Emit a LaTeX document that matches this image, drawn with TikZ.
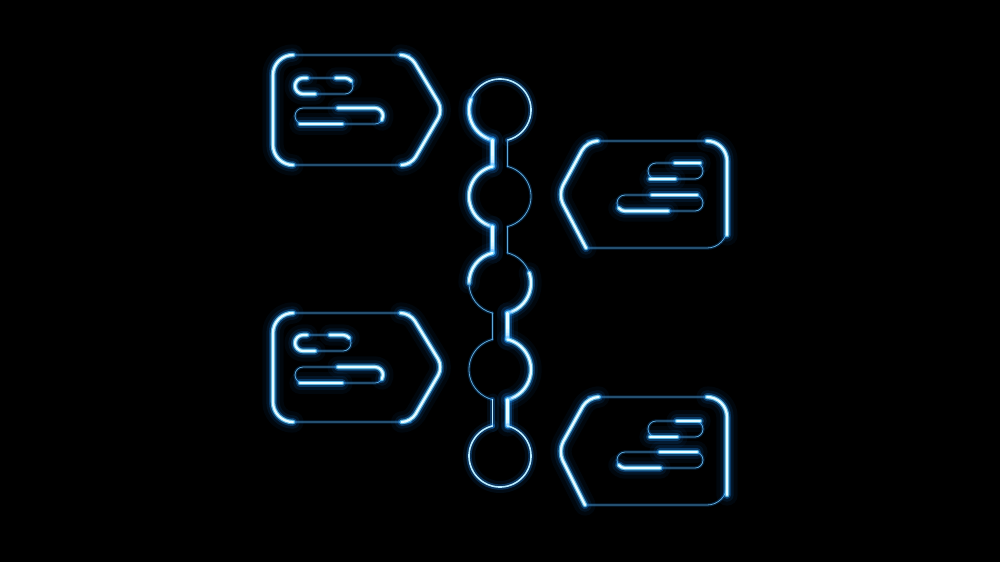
\documentclass[tikz,border=0pt]{standalone}
\definecolor{neoncore}{HTML}{E8FBFF}
\definecolor{neonmid}{HTML}{6FD6FF}
\definecolor{neonglow}{HTML}{1A8FFF}
\definecolor{dimcol}{HTML}{5FA9D6}
\newcommand{\neonpill}[4]{\draw[#4] ({#1+8},{#3-8}) -- ({#2-8},{#3-8}) arc[start angle=-90,end angle=90,radius=8] -- ({#1+8},{#3+8}) arc[start angle=90,end angle=270,radius=8] -- cycle;}
\newcommand{\chainarc}[4]{\draw[#4] ([shift={(500,#1)}]#2:31) arc[start angle=#2,end angle=#3,radius=31];}
\begin{document}
\begin{tikzpicture}[x=0.75pt,y=-0.75pt, line join=round, line cap=round,
  bright/.style={draw=neoncore, line width=1.7pt,
    preaction={draw=neonglow, line width=16pt, draw opacity=0.05},
    preaction={draw=neonglow, line width=10pt, draw opacity=0.1},
    preaction={draw=neonglow, line width=6pt, draw opacity=0.3},
    preaction={draw=neonmid, line width=3.4pt, draw opacity=0.75}},
  midglow/.style={draw=neoncore!60!neonmid, line width=1.2pt,
    preaction={draw=neonglow, line width=9pt, draw opacity=0.08},
    preaction={draw=neonglow, line width=4pt, draw opacity=0.3}},
  dim/.style={draw=dimcol, line width=0.6pt,
    preaction={draw=neonglow, line width=2.5pt, draw opacity=0.22}}]
\fill[black] (0,0) rectangle (1000,562);
\useasboundingbox (0,0) rectangle (1000,562);

% ---------- box 1 (left, top) ----------
\begin{scope}[shift={(273,55)}]
  \draw[dim, rounded corners=15] (137,0) -- (0,0) -- (0,110) -- (138,110);
  \draw[bright, rounded corners=15] (20,0) -- (0,0) -- (0,110) -- (20,110);
  \draw[bright, rounded corners=7] (128,0) -- (137,0) -- (170,55) -- (138,110) -- (129,110);
  \neonpill{22}{80}{31}{dim}
  \neonpill{22}{110}{61}{dim}
  \draw[bright] (42,39) -- (30,39) arc[start angle=90,end angle=270,radius=8] -- (34,23);
  \draw[bright] (63,23) -- (72,23) arc[start angle=-90,end angle=-40,radius=8];
  \draw[bright] (65,53) -- (102,53) arc[start angle=-90,end angle=30,radius=8];
  \draw[bright] (27,69) -- (69,69);
\end{scope}

% ---------- box 3 (left, bottom) ----------
\begin{scope}[shift={(273,313)}]
  \draw[dim, rounded corners=15] (137,0) -- (0,0) -- (0,109) -- (138,109);
  \draw[bright, rounded corners=15] (20,0) -- (0,0) -- (0,109) -- (20,109);
  \draw[bright, rounded corners=7] (128,0) -- (137,0) -- (170,54) -- (138,109) -- (129,109);
  \neonpill{22}{78}{30}{dim}
  \neonpill{22}{110}{62}{dim}
  \draw[bright] (42,38) -- (30,38) arc[start angle=90,end angle=270,radius=8] -- (34,22);
  \draw[bright] (57,22) -- (70,22) arc[start angle=-90,end angle=-40,radius=8];
  \draw[bright] (65,54) -- (102,54) arc[start angle=-90,end angle=30,radius=8];
  \draw[bright] (27,70) -- (69,70);
\end{scope}

% ---------- box 2 (right, top) ----------
\begin{scope}[shift={(727,141)}, xscale=-1]
  \draw[dim, rounded corners=15] (140,0) -- (0,0) -- (0,107) -- (141,107);
  \draw[bright, rounded corners=15] (20,0) -- (0,0) -- (0,94);
  \draw[bright, rounded corners=8] (131,0) -- (140,0) -- (169,53.5) -- (141,107);
  \neonpill{24}{79}{30}{dim}
  \neonpill{24}{110}{62}{dim}
  \draw[bright] (27,22) -- (52,22);
  \draw[bright] (52,38) -- (77,38);
  \draw[bright] (30,54) -- (75,54);
  \draw[bright] (59,70) -- (102,70) arc[start angle=90,end angle=40,radius=8];
\end{scope}

% ---------- box 4 (right, bottom) ----------
\begin{scope}[shift={(727,397)}, xscale=-1]
  \draw[dim, rounded corners=15] (139,0) -- (0,0) -- (0,108) -- (142,108);
  \draw[bright, rounded corners=15] (20,0) -- (0,0) -- (0,98);
  \draw[bright, rounded corners=8] (130,0) -- (139,0) -- (169,54) -- (142,108);
  \neonpill{24}{79}{32}{dim}
  \neonpill{24}{110}{63}{dim}
  \draw[bright] (27,24) -- (50,24);
  \draw[bright] (50,40) -- (77,40);
  \draw[bright] (30,55) -- (67,55);
  \draw[bright] (67,71) -- (102,71) arc[start angle=90,end angle=40,radius=8];
\end{scope}

% ---------- central chain ----------
% circle 0
\chainarc{110}{104}{436}{midglow}
\chainarc{110}{104}{200}{bright}
% neck 0
\draw[bright] (492.5,140.08) -- (492.5,166.42);
\draw[dim] (507.5,140.08) -- (507.5,166.42);
% circle 1
\chainarc{196.5}{256}{104}{bright}
\chainarc{196.5}{284}{436}{dim}
% neck 1
\draw[bright] (492.5,226.58) -- (492.5,252.92);
\draw[dim] (507.5,226.58) -- (507.5,252.92);
% circle 2
\chainarc{283}{256}{180}{bright}
\chainarc{283}{180}{104}{dim}
\chainarc{283}{284}{341}{dim}
\chainarc{283}{341}{436}{bright}
% neck 2
\draw[dim] (492.5,313.08) -- (492.5,339.42);
\draw[bright] (507.5,313.08) -- (507.5,339.42);
% circle 3
\chainarc{369.5}{256}{104}{dim}
\chainarc{369.5}{284}{436}{bright}
% neck 3
\draw[midglow] (492.5,399.58) -- (492.5,425.92);
\draw[bright] (507.5,399.58) -- (507.5,425.92);
% circle 4
\chainarc{456}{256}{-76}{midglow}
\end{tikzpicture}
\end{document}
